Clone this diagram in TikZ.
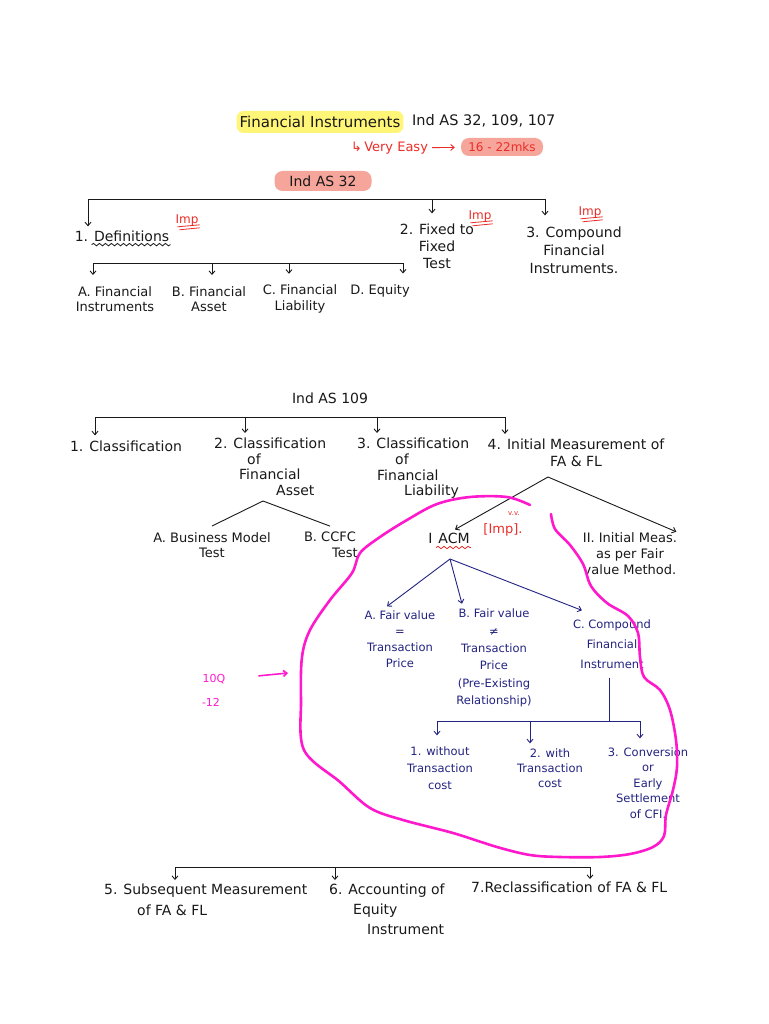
\documentclass[tikz,border=0pt]{standalone}
\usepackage{fontspec}
\setmainfont{DejaVu Sans}
\usetikzlibrary{arrows.meta,decorations.pathmorphing}
\definecolor{inkblack}{RGB}{25,25,25}
\definecolor{navyink}{RGB}{35,35,130}
\definecolor{annred}{RGB}{235,45,40}
\definecolor{magink}{RGB}{255,25,205}
\definecolor{hlyellow}{RGB}{255,246,120}
\definecolor{pinkbox}{RGB}{246,165,155}
\begin{document}
\begin{tikzpicture}[x=1pt,y=-1pt,
  lbl/.style={font=\fontsize{14}{17}\selectfont, align=center, inner sep=1pt, text=inkblack},
  sm/.style={font=\fontsize{13}{15.5}\selectfont, align=center, inner sep=1pt, text=inkblack},
  nv/.style={font=\fontsize{11.5}{16}\selectfont, align=center, inner sep=1pt, text=navyink},
  rd/.style={font=\fontsize{12}{14}\selectfont, text=annred, inner sep=1pt},
  mg/.style={font=\fontsize{11}{13}\selectfont, text=magink, inner sep=1pt},
  bk/.style={draw=inkblack, line width=0.9pt},
  bl/.style={draw=navyink, line width=0.9pt},
  tip/.style={-{Straight Barb[length=3.5pt,width=6pt]}},
  wave/.style={decorate, decoration={snake, amplitude=1.2pt, segment length=6pt}, line width=0.8pt},
]
\useasboundingbox (0,0) rectangle (768,1024);
\fill[white] (0,0) rectangle (768,1024);

% ---------- title ----------
\node[lbl, font=\fontsize{15}{17}\selectfont, fill=hlyellow, rounded corners=7pt, minimum height=22pt, inner xsep=3pt] (title) at (320,122) {Financial Instruments};
\node[lbl, font=\fontsize{14.5}{17}\selectfont, anchor=west] (acts) at (411,121) {Ind AS 32, 109, 107};
\node[rd, font=\fontsize{13}{15}\selectfont, anchor=west] (easy) at (350,148) {↳\,Very Easy};
\node[rd, font=\fontsize{12}{14}\selectfont, fill=pinkbox, rounded corners=8pt, minimum width=82pt, minimum height=18pt] (marks) at (502,147) {16 - 22mks};
\draw[annred, line width=0.9pt, tip, shorten <=3pt, shorten >=6pt] (easy) -- (marks);

% ---------- Ind AS 32 ----------
\node[lbl, fill=pinkbox, rounded corners=8pt, minimum width=97pt, minimum height=20pt] (as32) at (323,181) {Ind AS 32};

\node[lbl] (def) at (122,236) {1. Definitions};
\draw[wave, inkblack] ([xshift=18pt,yshift=-2pt]def.south west) -- ([yshift=-2pt]def.south east);
\node[lbl] (fixed) at (437,246) {2. Fixed to\\Fixed\\Test};
\node[lbl, font=\fontsize{14}{18}\selectfont] (comp) at (574,250) {3. Compound\\Financial\\Instruments.};

\node[rd] (imp1) at (187,220) {Imp};
\node[rd] (imp2) at (480,216) {Imp};
\node[rd] (imp3) at (590,212) {Imp};
\foreach \n in {imp1,imp2,imp3}{
  \draw[annred, line width=0.8pt] ([xshift=3pt]\n.south west) -- ([yshift=2pt]\n.south east);
  \draw[annred, line width=0.8pt] ([xshift=5pt,yshift=-3pt]\n.south west) -- ([yshift=-1pt]\n.south east);
}

\coordinate (t1) at (88,199);
\coordinate (t2) at (432,199);
\coordinate (t3) at (545,199);
\draw[bk] (t1) -- (t3);
\draw[bk,tip] (t1) -- ([yshift=3pt]t1 |- def.north);
\draw[bk,tip] (t2) -- ([yshift=9pt]t2 |- fixed.north);
\draw[bk,tip] (t3) -- ([yshift=10pt]t3 |- comp.north);

\node[sm] (fi) at (115,299) {A. Financial\\Instruments};
\node[sm] (fas) at (209,299) {B. Financial\\Asset};
\node[sm] (fli) at (300,299) {C. Financial\\Liability};
\node[sm] (eq) at (380,291) {D. Equity};

\coordinate (s1) at (93,263);
\coordinate (s2) at (212,263);
\coordinate (s3) at (289,263);
\coordinate (s4) at (403,263);
\draw[bk] (s1) -- (s4);
\draw[bk,tip] (s1) -- ([yshift=10pt]s1 |- fi.north);
\draw[bk,tip] (s2) -- ([yshift=10pt]s2 |- fas.north);
\draw[bk,tip] (s3) -- ([yshift=10pt]s3 |- fli.north);
\draw[bk,tip] (s4) -- ([yshift=10pt]s4 |- eq.north);

% ---------- Ind AS 109 ----------
\node[lbl] (as109) at (330,398) {Ind AS 109};

\node[lbl] (c1) at (126,446) {1. Classification};
\node[lbl, align=left, anchor=north west, font=\fontsize{14}{15.5}\selectfont] (c2) at (213,437) {2. Classification\\\hspace*{33pt}of\\\hspace*{25pt}Financial\\\hspace*{62pt}Asset};
\node[lbl, align=left, anchor=north west, font=\fontsize{14}{15.7}\selectfont] (c3) at (356,437) {3. Classification\\\hspace*{38pt}of\\\hspace*{20pt}Financial\\\hspace*{47pt}Liability};
\node[lbl] (c4) at (576,453) {4. Initial Measurement of\\FA \& FL};

\coordinate (u1) at (95,417);
\coordinate (u2) at (245,417);
\coordinate (u3) at (377,417);
\coordinate (u4) at (505,417);
\draw[bk] (u1) -- (u4);
\draw[bk,tip] (u1) -- ([yshift=4pt]u1 |- c1.north);
\draw[bk,tip] (u2) -- ([yshift=4pt]u2 |- c2.north);
\draw[bk,tip] (u3) -- ([yshift=4pt]u3 |- c3.north);
\draw[bk,tip] (u4) -- ([yshift=4pt]u4 |- c4.north);

\node[sm] (bm) at (212,545) {A. Business Model\\Test};
\node[sm] (ccfc) at (330,545) {B. CCFC\\\hspace*{30pt}Test};
\coordinate (a2) at (263,501);
\draw[bk] (a2) -- ([yshift=5pt]bm.north);
\draw[bk] (a2) -- ([yshift=5pt]ccfc.north);

\node[lbl] (acm) at (449,538) {I\hspace{6pt}ACM};
\draw[wave, annred] ([xshift=9pt,yshift=-3pt]acm.south west) -- ([yshift=-3pt]acm.south east);
\node[rd, font=\fontsize{13}{15}\selectfont] (impacm) at (503,530) {[Imp].};
\node[rd, font=\fontsize{7}{8}\selectfont] (vv) at (514,514) {v.v.};
\node[sm, font=\fontsize{13}{16}\selectfont] (fvm) at (630,554) {II. Initial Meas.\\as per Fair\\value Method.};

\coordinate (a4) at (548,477);
\draw[bk,tip] (a4) -- ([xshift=6pt,yshift=2pt]acm.north);
\draw[bk,tip] (a4) -- ([xshift=-2pt]fvm.north east);

% ---------- navy subtree ----------
\node[nv] (fa) at (400,639) {A. Fair value\\=\\Transaction\\Price};
\node[nv, font=\fontsize{11.5}{17.4}\selectfont] (fb) at (494,658) {B. Fair value\\≠\\Transaction\\Price\\(Pre-Existing\\Relationship)};
\node[nv, font=\fontsize{11.5}{20}\selectfont] (fc) at (612,644) {C. Compound\\Financial\\Instrument};

\coordinate (a5) at (450,559);
\draw[bl,tip] (a5) -- ([xshift=-13pt,yshift=3pt]fa.north);
\draw[bl,tip] (a5) -- ([xshift=-32pt,yshift=4pt]fb.north);
\draw[bl,tip] (a5) -- ([xshift=10pt,yshift=8pt]fc.north west);

\node[nv, font=\fontsize{11.5}{17}\selectfont] (w1) at (440,768) {1. without\\Transaction\\cost};
\node[nv, font=\fontsize{11.5}{15}\selectfont] (w2) at (550,768) {2. with\\Transaction\\cost};
\node[nv, font=\fontsize{11.5}{15.5}\selectfont] (w3) at (648,783) {3. Conversion\\or\\Early\\Settlement\\of CFI.};

\coordinate (v1) at (609,721);
\coordinate (b1) at (437,721);
\coordinate (b2) at (530,721);
\coordinate (b3) at (640,721);
\draw[bl] ([yshift=-8pt]fc.south -| v1) -- (v1);
\draw[bl] (b1) -- (b3);
\draw[bl,tip] (b1) -- ([yshift=10pt]b1 |- w1.north);
\draw[bl,tip] (b2) -- ([yshift=4pt]b2 |- w2.north);
\draw[bl,tip] (b3) -- ([yshift=8pt]b3 |- w3.north);

% ---------- magenta loop ----------
\draw[magink, line width=2.6pt, line cap=round, line join=round] plot[smooth, tension=0.55] coordinates {
(551,514) (555,529) (570,545) (583,564) (591,586) (607,603) (628,616) (638,633) (640,657) (644,677) (660,690) (670,710) (676,740) (677,767) (673,790) (666,815) (664,836) (653,847) (630,854) (600,857) (560,857) (530,855) (497,847) (453,833) (403,820) (370,808) (340,782) (304,750) (301,700) (302,657) (310,630) (330,600) (352,573) (360,553) (380,537) (407,520) (437,504) (470,497) (507,497) (530,505)};

\node[mg] (q10) at (214,679) {10Q};
\node[mg] (q12) at (211,702) {-12};
\coordinate (qtip) at (288,673);
\draw[magink, line width=1.6pt, tip, shorten <=32pt] (q10.east) -- (qtip);

% ---------- bottom ----------
\node[lbl, align=left, anchor=north west, font=\fontsize{14}{21}\selectfont] (n5) at (103,883) {5. Subsequent Measurement\\\hspace*{33pt}of FA \& FL};
\node[lbl, align=left, anchor=north west, font=\fontsize{14}{20}\selectfont] (n6) at (328,883) {6. Accounting of\\\hspace*{24pt}Equity\\\hspace*{38pt}Instrument};
\node[lbl, anchor=north west] (n7) at (470,881) {7.Reclassification of FA \& FL};

\coordinate (d1) at (175,867);
\coordinate (d2) at (335,867);
\coordinate (d3) at (590,867);
\draw[bk] (d1) -- (d3);
\draw[bk,tip] (d1) -- ([yshift=3pt]d1 |- n5.north);
\draw[bk,tip] (d2) -- ([yshift=3pt]d2 |- n6.north);
\draw[bk,tip] (d3) -- ([yshift=2pt]d3 |- n7.north);
\end{tikzpicture}
\end{document}
